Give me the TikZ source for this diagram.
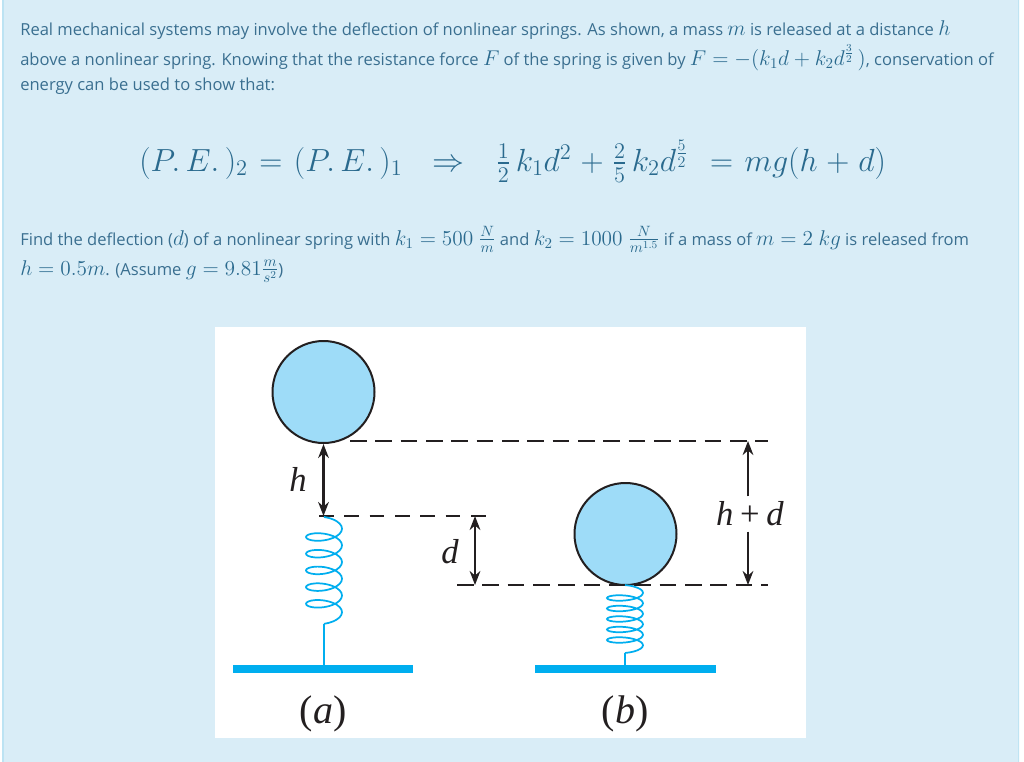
\documentclass[tikz,border=0pt]{standalone}
\usepackage{fix-cm}
\usepackage[no-math]{fontspec}
\usepackage{amsmath}
\setmainfont{Open Sans}
\newfontfamily\figfont{Liberation Serif}
\definecolor{panelblue}{HTML}{D9EDF7}
\definecolor{panelline}{HTML}{BCE3F3}
\definecolor{bodytext}{HTML}{3A6F90}
\definecolor{mathtext}{HTML}{2A6A8E}
\definecolor{massblue}{HTML}{9EDCF8}
\definecolor{springblue}{HTML}{00AEEF}
\definecolor{figink}{HTML}{231F20}
\newcommand{\inl}[1]{{\fontsize{16}{16}\selectfont\color{mathtext}$#1$}}
\newcommand{\dsp}[1]{{\fontsize{24}{26}\selectfont\color{mathtext}\thickmuskip=6.5mu\medmuskip=5mu$#1$}}
\usetikzlibrary{arrows.meta}

\begin{document}
\begin{tikzpicture}[x=.75pt,y=-.75pt,
  line/.style={anchor=base west, inner sep=0, text=bodytext, font=\fontsize{12.42}{14}\selectfont},
  eqline/.style={anchor=base west, inner sep=0},
  mass/.style={shape=circle, draw=figink, fill=massblue, line width=1.5pt,
    minimum size=76.5pt, inner sep=0},
  ground/.style={shape=rectangle, fill=springblue, minimum width=135.5pt,
    minimum height=6pt, inner sep=0},
  level line/.style={draw=figink, line width=2pt, dash pattern=on 12.5pt off 6.5pt},
  gauge/.style={draw=figink, line width=1.7pt, {Stealth[length=10.5pt,width=8pt]}-{Stealth[length=10.5pt,width=8pt]}},
  gauge end/.style={draw=figink, line width=1.7pt, -{Stealth[length=10.5pt,width=8pt]}},
  coil/.style={draw=springblue, line width=1.3pt},
  figlabel/.style={inner sep=0, text=figink, font=\figfont\itshape\fontsize{26}{28}\selectfont},
  figcaption/.style={figlabel, font=\figfont\itshape\fontsize{30}{32}\selectfont}]
  \useasboundingbox (0,0) rectangle (1024,761);
  \fill[white] (0,0) rectangle (1024,761);
  \fill[panelline, rounded corners=3pt] (2,-4) rectangle (1019,770);
  \fill[panelblue, rounded corners=2pt] (4,-3) rectangle (1018,770);

  \node[line] (first) at (20,35) {Real mechanical systems may involve the deflection of nonlinear springs. As shown, a mass \inl{m} is released at a distance \inl{h}};
  \node[line] (second) at (20,65) {above a nonlinear spring. Knowing that the resistance force \inl{F} of the spring is given by \inl{F=-(k_1d+k_2d^{\frac{3}{2}}\,)}, conservation of};
  \node[line] (third) at (20,90) {energy can be used to show that:};
  \node[eqline] (eqleft) at (139,171) {\dsp{(P.\,E.\,)_2=(P.\,E.\,)_1}};
  \node[eqline] (eqarrow) at (432,171) {\dsp{\Rightarrow}};
  \node[eqline] (eqright) at (496,171) {\dsp{\frac{1}{2}\,k_1d^2+\frac{2}{5}\,k_2d^{\frac{5}{2}}\,\,=mg(h+d)}};
  \node[line] (fourth) at (20,245) {Find the deflection (\inl{d}) of a nonlinear spring with \inl{k_1=500\ \frac{N}{m}} and \inl{k_2=1000\ \frac{N}{m^{1.5}}} if a mass of \inl{m=2\ kg} is released from};
  \node[line] (fifth) at (20,275) {\inl{h=0.5m}. (Assume \inl{g=9.81\frac{m}{s^2}})};

  \fill[white] (215,327) rectangle (806,738);

  \coordinate (topleft) at (350,441);
  \coordinate (topright) at (768,441);
  \coordinate (midleft) at (319,516);
  \coordinate (midright) at (489,516);
  \coordinate (lowleft) at (457,585);
  \coordinate (lowright) at (768,585);
  \draw[level line] (topleft) -- (topright);
  \draw[level line, line width=1.5pt, dash pattern=on 11pt off 8pt] (midleft) -- (midright);
  \draw[level line, line width=1.5pt] (lowleft) -- (lowright);

  \node[mass] (massa) at (323.5,392) {};
  \node[mass] (massb) at (625.5,534) {};
  \node[ground] (grounda) at (323,669) {};
  \node[ground] (groundb) at (625.5,669) {};

  \foreach \cx/\ys/\pitch/\bulge/\side in {324/528.65/16.7/7.5/a,625/592.75/10.5/5.1/b}{
    \draw[coil] plot[smooth, domain=-90:1890, samples=133]
      ({\cx+18*cos(\x)},{\ys+\pitch*(\x/360)+\bulge*sin(\x)})
      coordinate (coilend\side);
    \draw[coil] (coilend\side) -- (coilend\side |- ground\side.north);
  }

  \coordinate (dtop) at (475,516);
  \coordinate (dlow) at (475,585);
  \coordinate (sumtop) at (748,441);
  \coordinate (sumlow) at (748,585);
  \draw[gauge] (massa.south) -- (midleft -| massa.south);
  \draw[gauge] (dtop) -- (dlow);
  \node[figlabel] (labelh) at (298,479) {h};
  \node[figlabel] (labeld) at (450,552) {d};
  \node[figlabel, fill=white, minimum height=26pt] (labelsum) at (750,514) {h\hspace{5pt}\textup{+}\hspace{5pt}d};
  \draw[gauge end] (labelsum.north -| sumtop) -- (sumtop);
  \draw[gauge end] (labelsum.south -| sumlow) -- (sumlow);
  \node[figcaption] (capa) at (323,714) {\textup{(}a\textup{)}};
  \node[figcaption] (capb) at (625,714) {\textup{(}b\textup{)}};
\end{tikzpicture}
\end{document}
